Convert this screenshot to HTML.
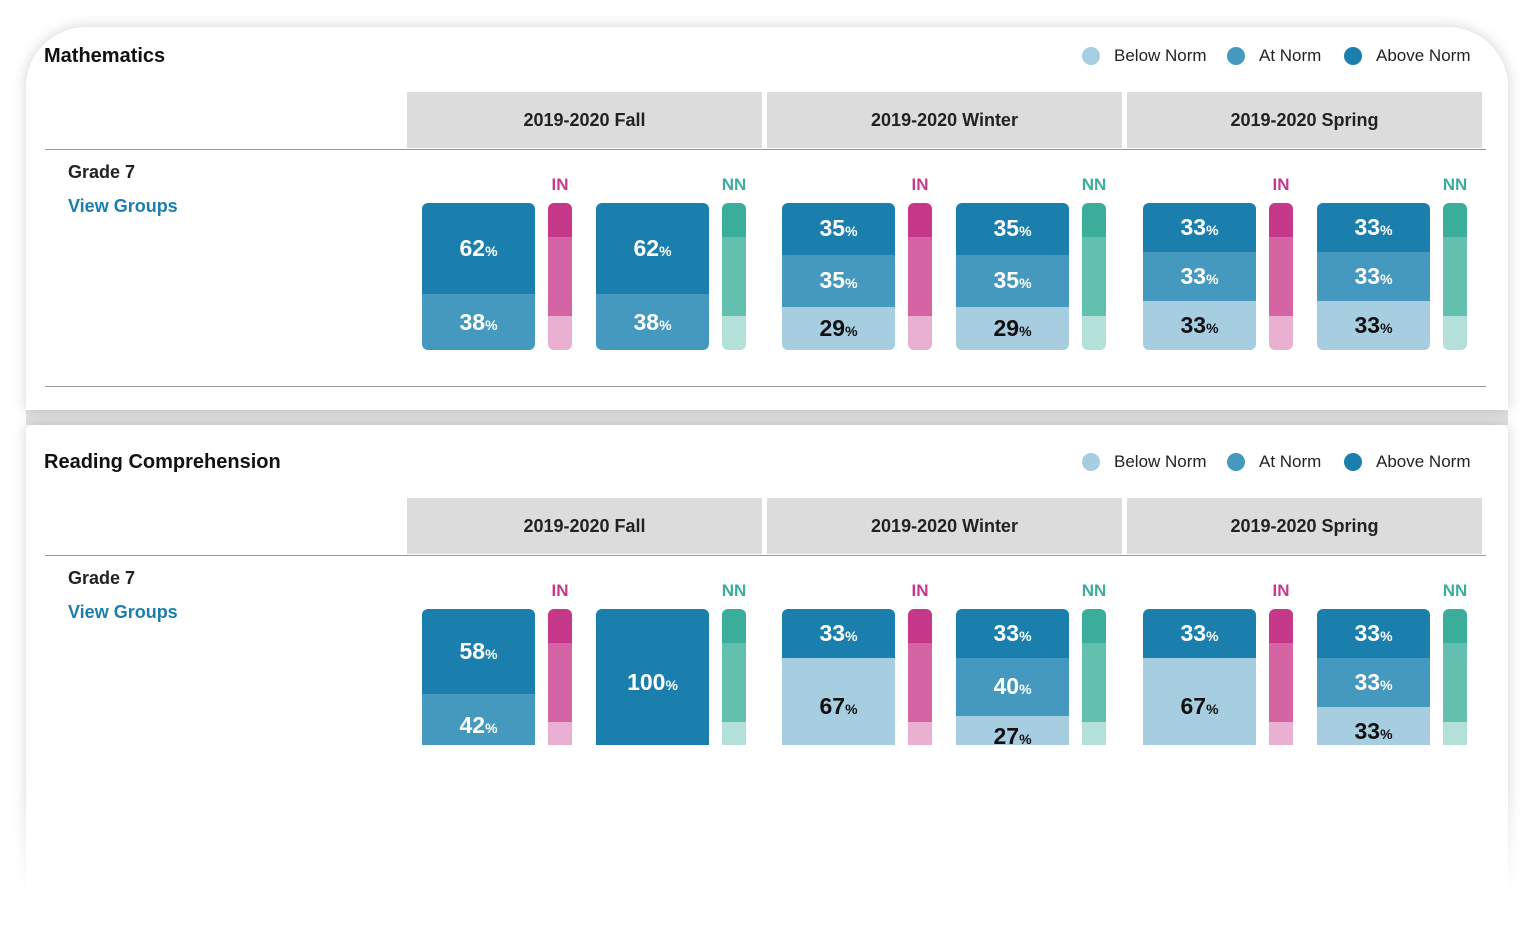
<!DOCTYPE html>
<html><head><meta charset="utf-8"><style>
body{margin:0;width:1536px;height:945px;background:#fff;position:relative;overflow:hidden;font-family:"Liberation Sans",sans-serif}
.card{position:absolute;left:26px;width:1482px;background:#fff;box-shadow:0 0 14px rgba(0,0,0,.18)}
.abs{position:absolute}
.title{position:absolute;left:18px;font-size:20px;font-weight:bold;color:#111}
.leg{position:absolute;font-size:17px;color:#222}
.dot{position:absolute;width:18px;height:18px;border-radius:50%}
.hdr{position:absolute;height:56px;background:#dcdcdc;font-size:18px;font-weight:bold;color:#222;text-align:center;line-height:56px}
.line{position:absolute;left:19px;width:1441px;height:1px;background:#999}
.grade{position:absolute;left:42px;font-size:18px;font-weight:bold;color:#222}
.vg{position:absolute;left:42px;font-size:18px;font-weight:bold;color:#1a7fad}
.seg{position:absolute;left:0;width:100%;display:flex;align-items:center;justify-content:center;font-weight:bold;font-size:23px}
.seg small{font-size:14px;margin-top:5px}
.tag{position:absolute;font-size:17px;font-weight:bold;text-align:center;width:40px}
</style></head><body>
<div style="position:absolute;left:26px;top:410px;width:1482px;height:15px;background:#e2e1e4"></div>
<div class="card" id="c1" style="top:27px;height:383px;border-radius:60px 60px 0 0"></div>
<div class="card" id="c2" style="top:425px;height:470px;border-radius:6px 6px 0 0"></div>
<div class="abs" style="left:0;top:780px;width:1536px;height:165px;background:linear-gradient(rgba(255,255,255,0),#fff 70%)"></div>
<script>
const subjects=["Mathematics","Reading Comprehension"];
const terms=["2019-2020 Fall","2019-2020 Winter","2019-2020 Spring"];
// per subject, per term, two boxes: [above, at, below]
const mathBoxes=[[[62,38,0],[62,38,0]],[[35,35,29],[35,35,29]],[[33,33,33],[33,33,33]]];
const readBoxes=[[[58,42,0],[100,0,0]],[[33,0,67],[33,40,27]],[[33,0,67],[33,33,33]]];
const inSplit=[23,54,23];
const nnSplit=[23,54,23];
const data=[mathBoxes,readBoxes];
const blue=["#1a7fad","#4599bf","#a6cde0"];
const pink=["#c6398a","#d464a4","#e9b0d1"];
const green=["#3aae9a","#63bfae","#b3e0d8"];
const H=147;
function yS(v,tot){return v/tot*H;}
function mk(parent,cls,name,css,html){const e=document.createElement('div');if(cls)e.className=cls;e.style.cssText=css||'';if(html!==undefined)e.innerHTML=html;


parent.appendChild(e);return e;}
[0,1].forEach(si=>{
 const card=document.getElementById(si?'c2':'c1');
 const off=si?8:0;
 mk(card,'title','subject-title','top:'+(18+off)+'px',subjects[si]);
 const legs=[["Below Norm",blue[2],1056],["At Norm",blue[1],1201],["Above Norm",blue[0],1318]];
 legs.forEach((l,i)=>{mk(card,'dot','legend-dot','left:'+l[2]+'px;top:'+(20+off)+'px;background:'+l[1]);
  mk(card,'leg','legend-entry','left:'+(l[2]+32)+'px;top:'+(19+off)+'px',l[0]);});
 const hx=[381,741,1101];
 terms.forEach((tm,i)=>mk(card,'hdr','term-header','left:'+hx[i]+'px;top:'+(65+off)+'px;width:355px',tm));
 mk(card,'line','header-divider','top:'+(122+off)+'px');
 if(!si) mk(card,'line','row-divider','top:'+(359)+'px');
 mk(card,'grade','grade-label','top:'+(135+off)+'px','Grade 7');
 const vg=mk(card,'vg','view-groups-link','top:'+(169+off)+'px','View Groups');
 
 const boxTop=176+off;
 const clip=si?136:999;
 const gx=[396,756,1117];
 data[si].forEach((pair,ti)=>{
  pair.forEach((vals,bi)=>{
   const x=gx[ti]+bi*174;
   const box=mk(card,'','score-box','position:absolute;left:'+x+'px;top:'+boxTop+'px;width:113px;height:'+Math.min(H,clip)+'px;border-radius:6px 6px '+(si?0:6)+'px '+(si?0:6)+'px;overflow:hidden');
   let y=0;
   const s=vals.reduce((a,b)=>a+b,0);
   vals.forEach((v,k)=>{ if(!v)return; const h=yS(v,s);
    mk(box,'seg','segment-'+['above','at','below'][k],'top:'+y+'px;height:'+h+'px;background:'+blue[k]+';color:'+(k==2?'#111':'#fff'),v+'<small>%</small>');
    y+=h;});
   const sx=x+126;const cols=bi?green:pink;const split=bi?nnSplit:inSplit;
   mk(card,'tag',bi?'nn-label':'in-label','left:'+(sx-8)+'px;top:'+(boxTop-28)+'px;color:'+cols[0],bi?'NN':'IN');
   const sb=mk(card,'','mini-bar','position:absolute;left:'+sx+'px;top:'+boxTop+'px;width:24px;height:'+Math.min(H,clip)+'px;border-radius:6px 6px '+(si?0:6)+'px '+(si?0:6)+'px;overflow:hidden');
   let yy=0;split.forEach((v,k)=>{const h=yS(v,100);mk(sb,'','mini-segment','position:absolute;left:0;width:100%;top:'+yy+'px;height:'+h+'px;background:'+cols[k]);yy+=h;});
  });
 });
});
</script>
</body></html>
